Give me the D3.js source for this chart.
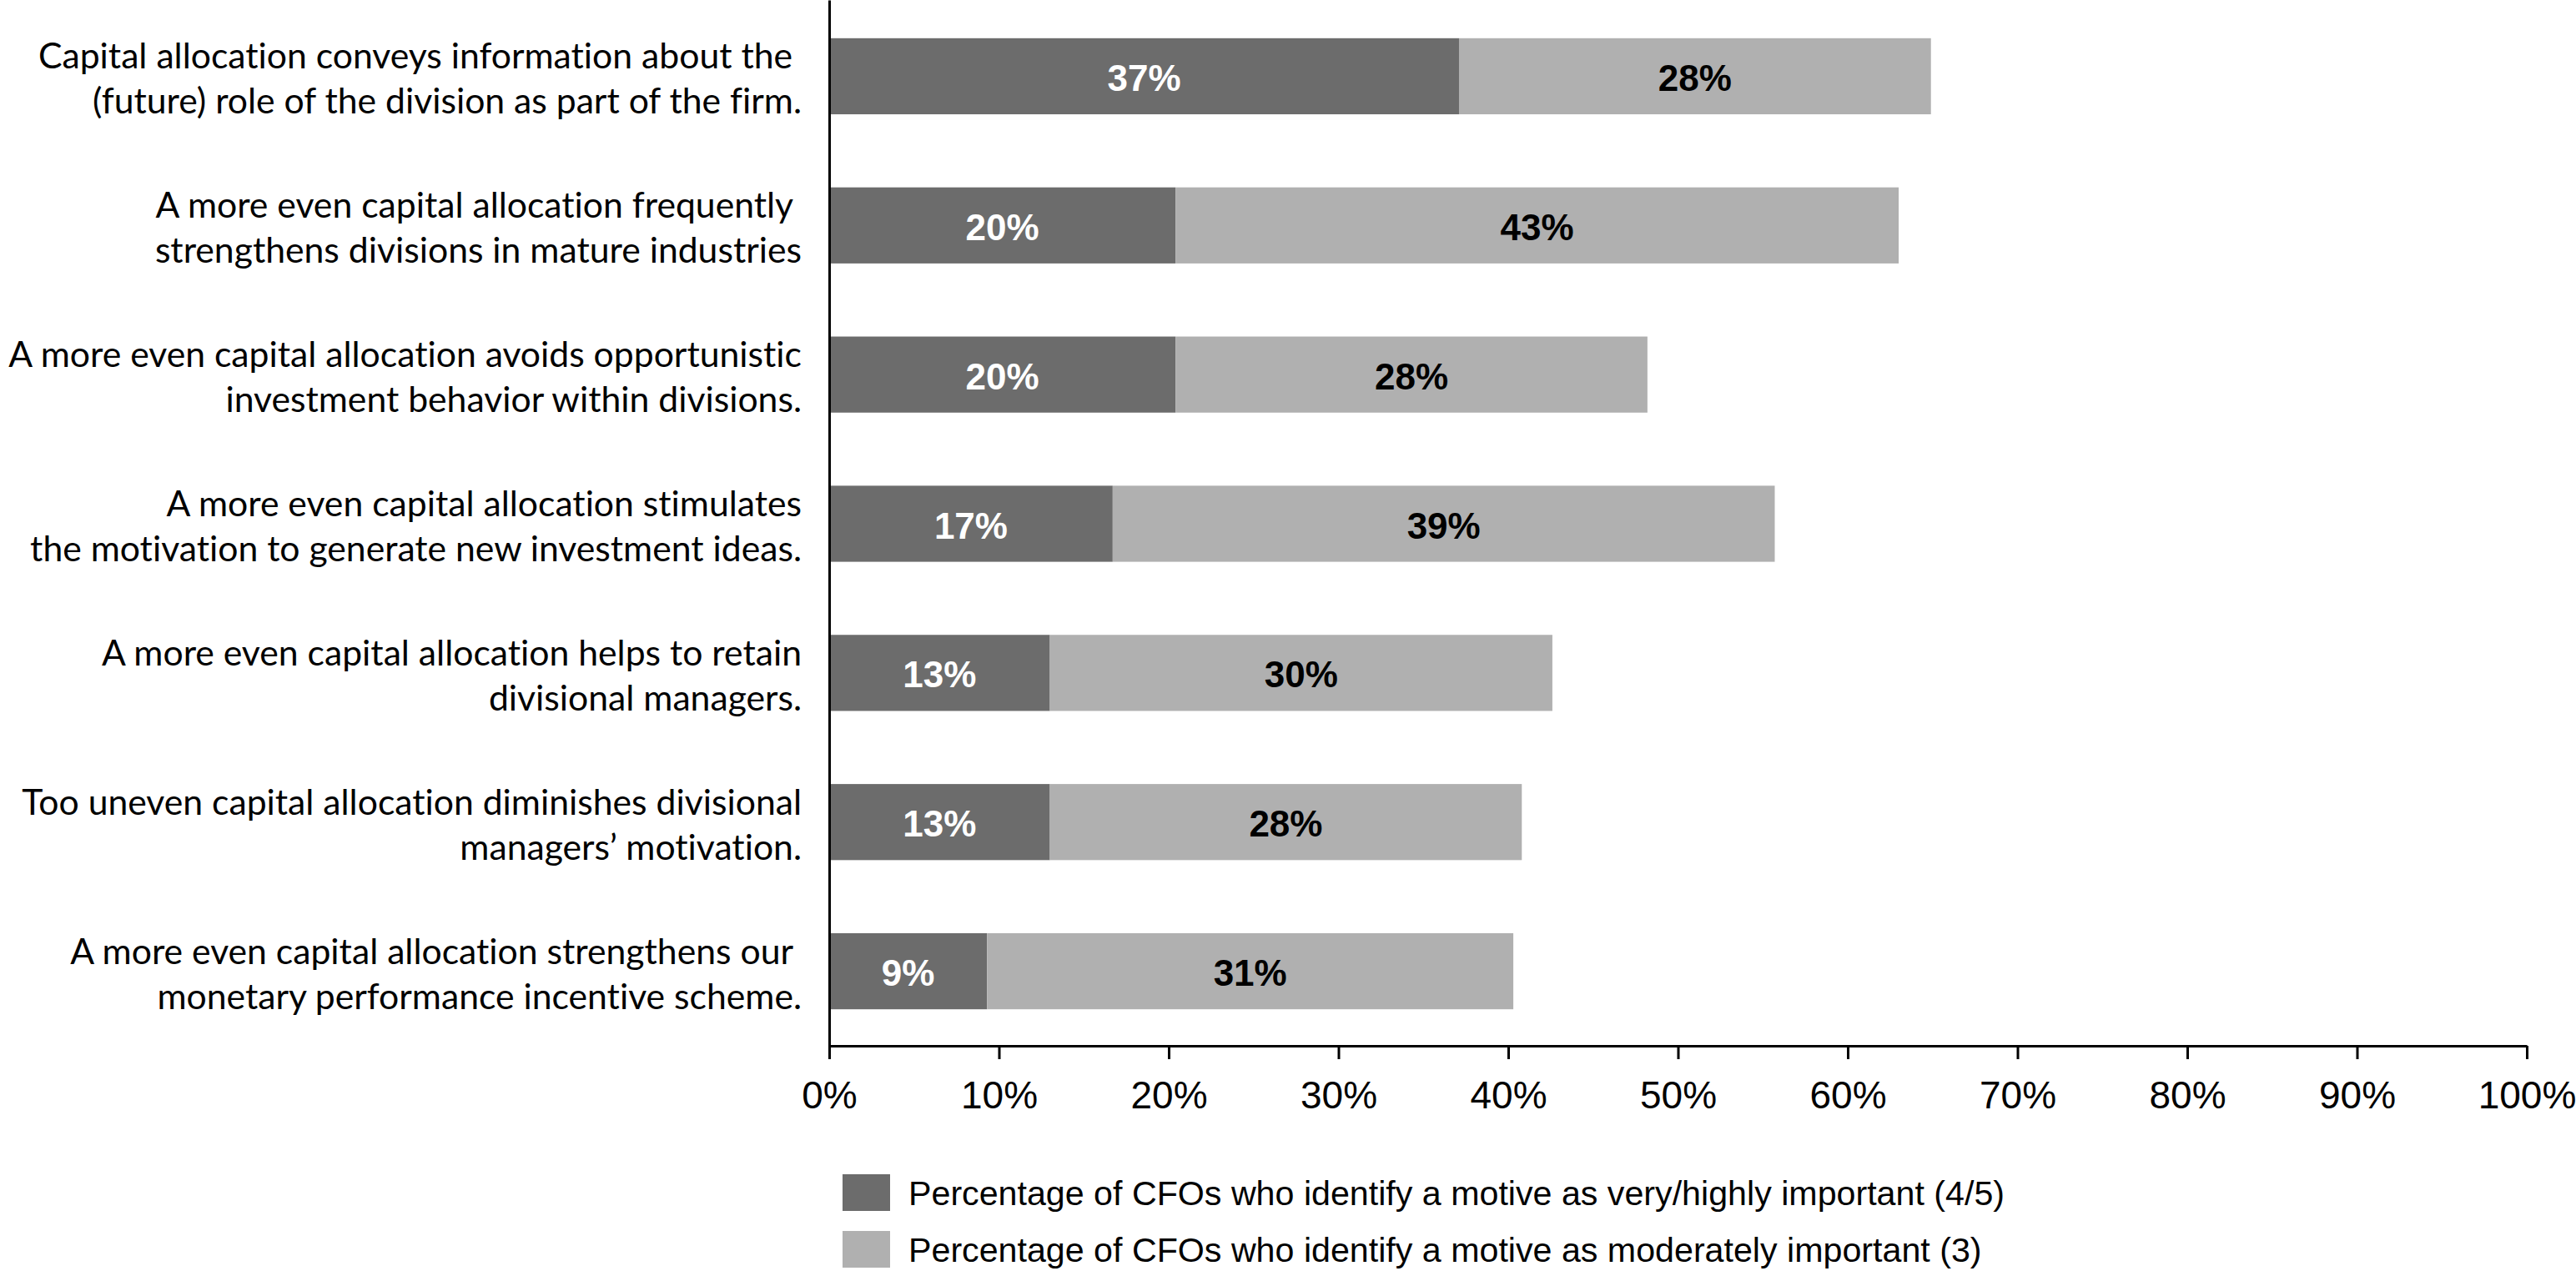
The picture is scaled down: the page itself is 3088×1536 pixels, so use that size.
<!DOCTYPE html>
<html>
<head>
<meta charset="utf-8">
<script src="https://cdn.jsdelivr.net/npm/d3@7"></script>
<style>
  html, body { margin: 0; padding: 0; background: #fff; }
  svg { display: block; }
  .cat { font-family: Lato, "Open Sans", sans-serif; font-size: 42.7px; fill: #000; white-space: pre; font-variant-ligatures: none; }
  .tick text { font-family: "Liberation Sans", Arial, sans-serif; font-size: 46px; fill: #000; }
  .val { font-family: "Liberation Sans", Arial, sans-serif; font-size: 44px; font-weight: bold; }
  .leg { font-family: "Liberation Sans", Arial, sans-serif; font-size: 41.2px; fill: #000; }
</style>
</head>
<body>
<div id="chart"></div>
<script>
// category labels, two lines each (trailing spaces kept as in the source)
const categories = [
  ["Capital allocation conveys information about the ", "(future) role of the division as part of the firm."],
  ["A more even capital allocation frequently ", "strengthens divisions in mature industries"],
  ["A more even capital allocation avoids opportunistic", "investment behavior within divisions."],
  ["A more even capital allocation stimulates", "the motivation to generate new investment ideas."],
  ["A more even capital allocation helps to retain", "divisional managers."],
  ["Too uneven capital allocation diminishes divisional", "managers\u2019 motivation."],
  ["A more even capital allocation strengthens our ", "monetary performance incentive scheme."]
];
// percentage very/highly important (4/5)
const highValues = [37.1, 20.4, 20.4, 16.7, 13.0, 13.0, 9.3];
// percentage moderately important (3)
const moderateValues = [27.8, 42.6, 27.8, 39.0, 29.6, 27.8, 31.0];
const xTicks = [0, 10, 20, 30, 40, 50, 60, 70, 80, 90, 100];
const seriesNames = [
  "Percentage of CFOs who identify a motive as very/highly important (4/5)",
  "Percentage of CFOs who identify a motive as moderately important (3)"
];

const W = 3088, H = 1536;
const colors = ["#6c6c6c", "#b0b0b0"];
const labelColors = ["#fff", "#000"];

const svg = d3.select("#chart").append("svg")
  .attr("width", W)
  .attr("height", H);

const x = d3.scaleLinear().domain([0, 100]).range([994, 3029]);
const y = d3.scaleBand()
  .domain(d3.range(categories.length))
  .range([2, 1254])
  .paddingInner(0.49)
  .paddingOuter(0.245);

const rows = categories.map((c, i) => ({
  i,
  segs: [
    { s: 0, x0: 0, x1: highValues[i], v: highValues[i] },
    { s: 1, x0: highValues[i], x1: highValues[i] + moderateValues[i], v: moderateValues[i] }
  ]
}));

// bars
const row = svg.append("g").selectAll("g")
  .data(rows)
  .join("g");

row.selectAll("rect")
  .data(d => d.segs.map(s => ({ ...s, i: d.i })))
  .join("rect")
  .attr("x", d => x(d.x0))
  .attr("y", d => y(d.i))
  .attr("width", d => x(d.x1) - x(d.x0))
  .attr("height", y.bandwidth())
  .attr("fill", d => colors[d.s]);

row.selectAll("text")
  .data(d => d.segs.map(s => ({ ...s, i: d.i })))
  .join("text")
  .attr("class", "val")
  .attr("x", d => (x(d.x0) + x(d.x1)) / 2)
  .attr("y", d => y(d.i) + y.bandwidth() / 2)
  .attr("dy", "0.4em")
  .attr("text-anchor", "middle")
  .attr("fill", d => labelColors[d.s])
  .text(d => Math.round(d.v) + "%");

// x axis
const xAxis = svg.append("g")
  .attr("transform", `translate(0,${y.range()[1]})`)
  .call(d3.axisBottom(x)
    .tickValues(xTicks)
    .tickFormat(d => d + "%")
    .tickSize(16)
    .tickSizeOuter(0)
    .tickPadding(26));
xAxis.select(".domain").attr("stroke", "#000").attr("stroke-width", 3);
xAxis.selectAll(".tick line").attr("stroke", "#000").attr("stroke-width", 3);

// y axis (line only, labels drawn below)
const yAxis = svg.append("g")
  .attr("transform", `translate(${x(0)},0)`)
  .call(d3.axisLeft(y.copy().range([0, 1254])).tickSize(0).tickFormat(""));
yAxis.select(".domain").attr("stroke", "#000").attr("stroke-width", 3);

// category labels
const cat = svg.append("g").selectAll("text")
  .data(categories)
  .join("text")
  .attr("class", "cat")
  .attr("text-anchor", "end")
  .attr("x", x(0) - 33)
  .attr("y", (d, i) => y(i) + y.bandwidth() / 2 - 9);
cat.selectAll("tspan")
  .data(d => d)
  .join("tspan")
  .attr("x", x(0) - 33)
  .attr("dy", (d, j) => j === 0 ? 0 : 54)
  .text(d => d);

// legend
const legend = svg.append("g").selectAll("g")
  .data(seriesNames)
  .join("g")
  .attr("transform", (d, i) => `translate(1010,${1408 + i * 68})`);
legend.append("rect")
  .attr("width", 57)
  .attr("height", 44)
  .attr("fill", (d, i) => colors[i]);
legend.append("text")
  .attr("class", "leg")
  .attr("x", 79)
  .attr("y", 37)
  .text(d => d);
</script>
</body>
</html>
